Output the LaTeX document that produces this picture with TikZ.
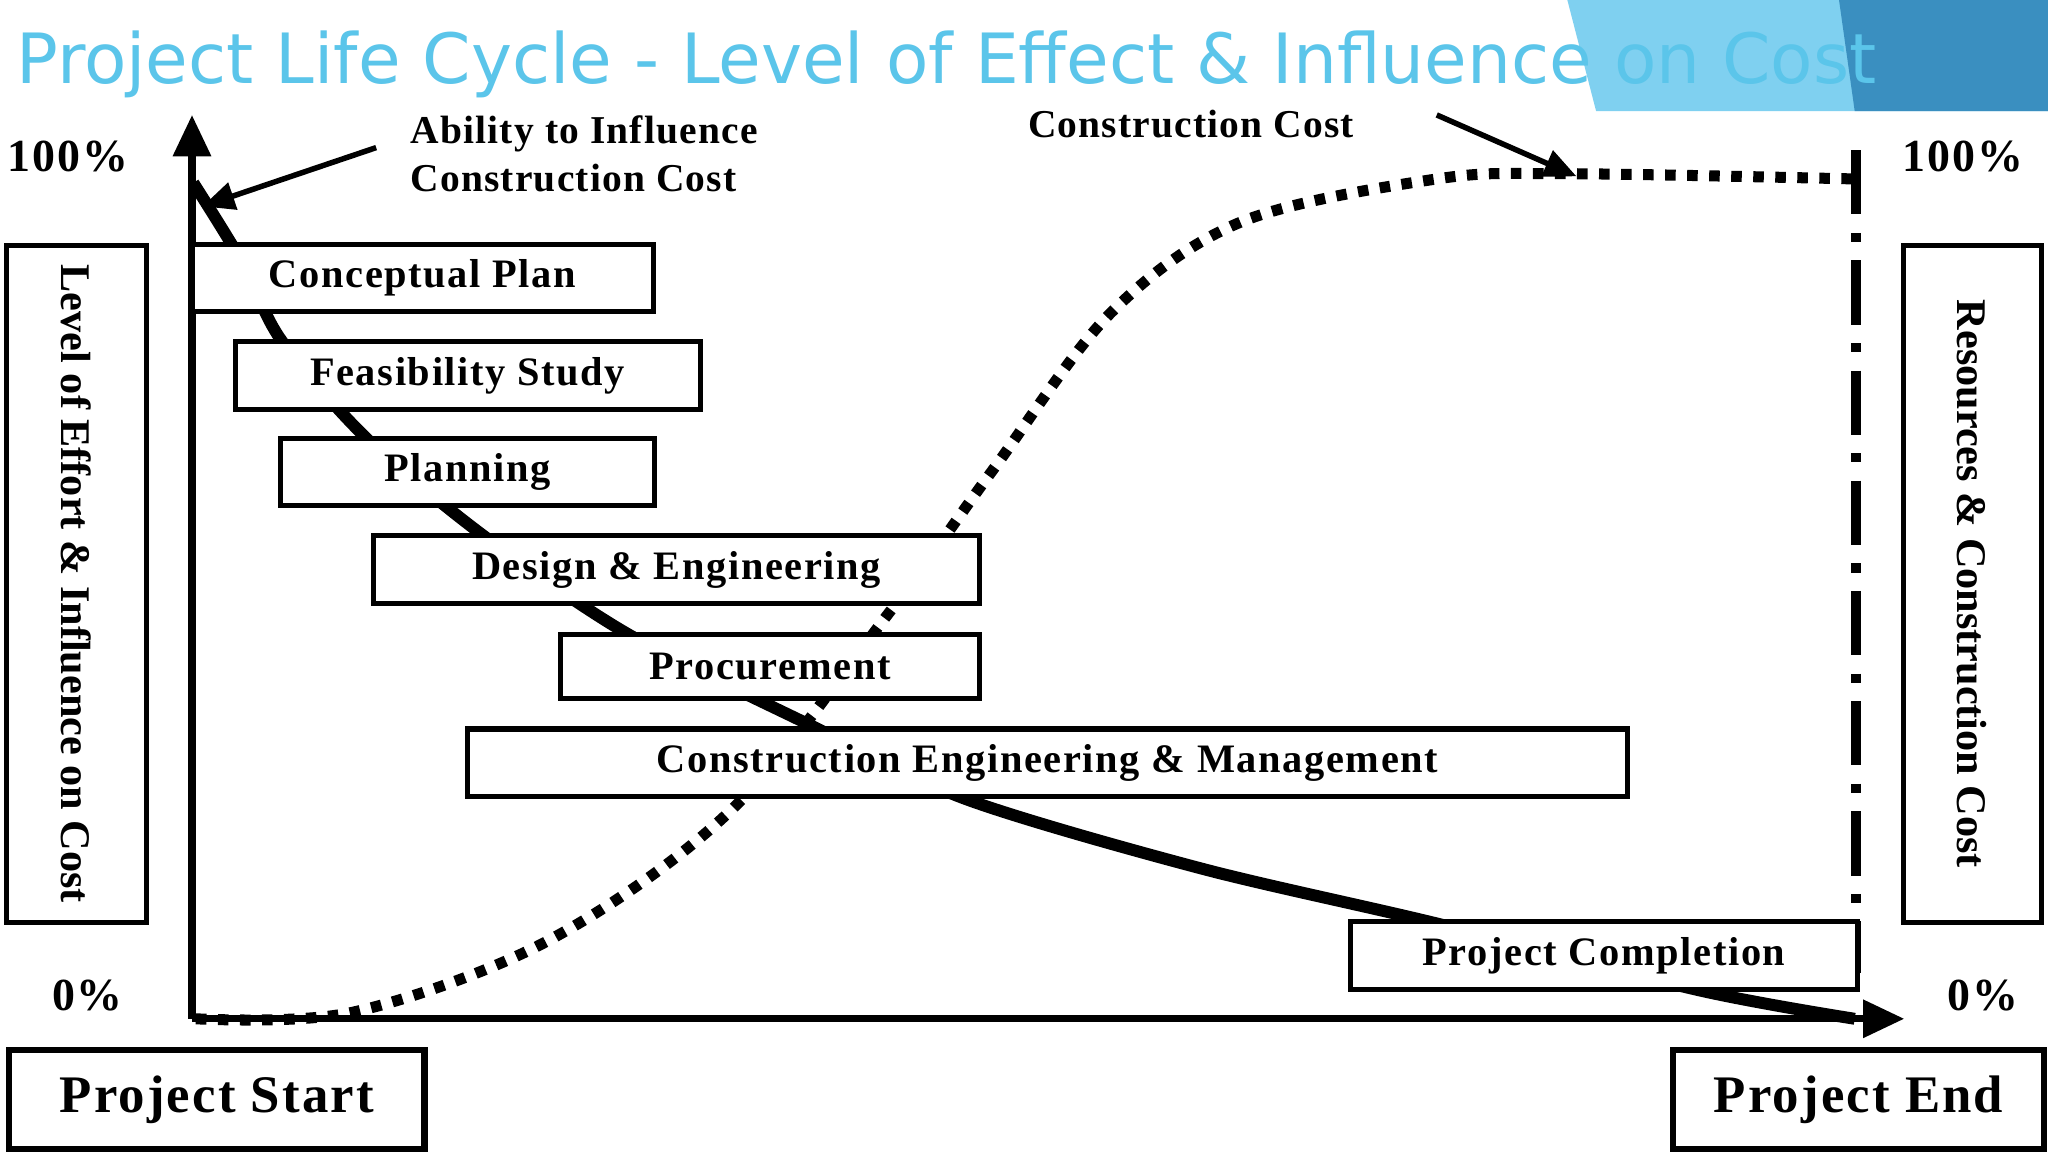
\documentclass[tikz,border=0pt]{standalone}
\usepackage{fontspec}
\setmainfont{Liberation Serif}
\newfontfamily\titlefont{DejaVu Sans}
\usetikzlibrary{arrows.meta}
\definecolor{ttl}{HTML}{5BC5EA}
\definecolor{dec1}{HTML}{7FD0F0}
\definecolor{dec2}{HTML}{3A8FC0}
\tikzset{
 stagebox/.style={draw,line width=1.1pt,fill=white,font=\fontsize{8.8}{9}\selectfont\bfseries\addfontfeatures{LetterSpace=4}},
 lbl/.style={font=\fontsize{8.6}{10.5}\selectfont\bfseries\addfontfeatures{LetterSpace=3},align=left},
 pct/.style={font=\fontsize{10}{11}\selectfont\bfseries\addfontfeatures{LetterSpace=4}},
}
\begin{document}
\begin{tikzpicture}[x=0.1mm,y=-0.1mm]
\useasboundingbox (0,0) rectangle (1568,882);
\fill[white] (0,0) rectangle (1568,882);
% decoration
\fill[dec1] (1200,0) -- (1568,0) -- (1568,85) -- (1222,85) -- cycle;
\fill[dec2] (1408,0) -- (1568,0) -- (1568,85) -- (1420,85) -- cycle;
\node[anchor=base west,text=ttl,font=\titlefont\fontsize{15.1}{16}\selectfont,inner sep=0] (title) at (12,64) {Project Life Cycle - Level of Effect \& Influence on Cost};
% axes
\coordinate (o) at (147,780);
\coordinate (ytop) at (147,88);
\coordinate (xend) at (1458,780);
\draw[line width=1.6pt,-{Triangle[length=9pt,width=8pt]}] (o) -- (ytop);
\draw[line width=1.6pt,-{Triangle[length=9pt,width=8pt]}] (o) -- (xend);
% dash-dot line
\coordinate (vt) at (1421,115);
\coordinate (vb) at (1421,745);
\draw[line width=2.2pt,dash pattern=on 14pt off 4pt on 2pt off 4pt] (vt) -- (vb);
% solid curve
\draw[line width=2.6pt] plot[smooth,tension=0.5] coordinates {(148,140)(185,200)(215,260)(280,335)(370,410)(480,485)(620,555)(740,612)(920,665)(1100,707)(1300,758)(1420,780)};
% dotted curve
\draw[line width=2.4pt,dash pattern=on 2.3pt off 2.5pt] plot[smooth,tension=0.55] coordinates {(150,780)(270,775)(420,720)(560,620)(680,470)(760,360)(850,240)(950,170)(1100,137)(1200,133)(1420,137)};
% left/right boxes
\node[draw,line width=1.1pt,minimum width=10.7mm,minimum height=51.8mm] (lbox) at (58.5,447) {};
\node[rotate=-90,font=\fontsize{9.2}{10}\selectfont\bfseries] (ltxt) at (lbox.center) {Level of Effort \& Influence on Cost};
\node[draw,line width=1.1pt,minimum width=10.6mm,minimum height=51.8mm] (rbox) at (1510,447) {};
\node[rotate=-90,font=\fontsize{9.2}{10}\selectfont\bfseries] (rtxt) at (rbox.center) {Resources \& Construction Cost};
% percents
\node[pct] (p1) at (52,120) {100\%};
\node[pct] (p2) at (1503,120) {100\%};
\node[pct] (p3) at (67,762) {0\%};
\node[pct] (p4) at (1518,762) {0\%};
% stages
\node[stagebox,minimum width=35.3mm,minimum height=5mm] (s1) at (323.5,213) {Conceptual Plan};
\node[stagebox,minimum width=35.6mm,minimum height=4.9mm] (s2) at (358,287.5) {Feasibility Study};
\node[stagebox,minimum width=28.6mm,minimum height=4.9mm] (s3) at (358,361.5) {Planning};
\node[stagebox,minimum width=46.4mm,minimum height=5mm] (s4) at (518,436) {Design \& Engineering};
\node[stagebox,minimum width=32.1mm,minimum height=4.9mm] (s5) at (589.5,510.5) {Procurement};
\node[stagebox,minimum width=88.8mm,minimum height=4.8mm] (s6) at (802,584) {Construction Engineering \& Management};
\node[stagebox,minimum width=38.8mm,minimum height=4.9mm] (s7) at (1228,731.5) {Project Completion};
\node[draw,line width=1.4pt,minimum width=31.8mm,minimum height=7.6mm,font=\fontsize{11.5}{12}\selectfont\bfseries\addfontfeatures{LetterSpace=4}] (ps) at (166,842) {Project Start};
\node[draw,line width=1.4pt,minimum width=28.4mm,minimum height=7.6mm,font=\fontsize{11.5}{12}\selectfont\bfseries\addfontfeatures{LetterSpace=4}] (pe) at (1423,842) {Project End};
% labels
\node[lbl,anchor=north west] (l1) at (302,76) {Ability to Influence\\Construction Cost};
\node[lbl] (l2) at (912,95) {Construction Cost};
\coordinate (a1s) at (288,113);
\coordinate (a1e) at (155,158);
\coordinate (a2s) at (1100,88);
\coordinate (a2e) at (1207,135);
\draw[line width=1.2pt,-{Triangle[length=7pt,width=6pt]}] (a1s) -- (a1e);
\draw[line width=1.2pt,-{Triangle[length=7pt,width=6pt]}] (a2s) -- (a2e);
\end{tikzpicture}
\end{document}
